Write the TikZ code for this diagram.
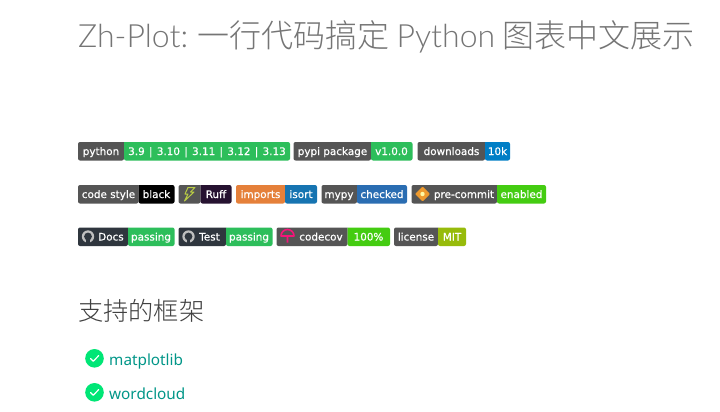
\documentclass[tikz,border=0pt]{standalone}
\usepackage{fontspec}
\setmainfont{DejaVu Sans}
\newfontfamily\badgefont{DejaVu Sans}[RawFeature={embolden=0.5}]
\newfontfamily\titlefont{Noto Sans CJK SC Light}
\newfontfamily\titlelatin{Lato Light}
\newfontfamily\listfont{Noto Sans}
\definecolor{badgegrey}{HTML}{555555}
\definecolor{badgedark}{HTML}{2F363E}
\definecolor{badgegreen}{HTML}{2DBE5B}
\definecolor{badgelime}{HTML}{44CC11}
\definecolor{badgeblue}{HTML}{007EC6}
\definecolor{badgeorange}{HTML}{E5803A}
\definecolor{badgeisort}{HTML}{1674B1}
\definecolor{badgemypy}{HTML}{2A6DB2}
\definecolor{badgeruff}{HTML}{261230}
\definecolor{badgemit}{HTML}{97BB0B}
\definecolor{titlegrey}{HTML}{757575}
\definecolor{linkteal}{HTML}{009688}
\definecolor{checkgreen}{HTML}{00E676}
\definecolor{codecovpink}{HTML}{F5157A}
\definecolor{ruffbolt}{HTML}{B9CC45}
\definecolor{commitorange}{HTML}{EE9A2E}
\tikzset{
  badgetext/.style={text=white, font=\badgefont\fontsize{10.4}{11}\selectfont, inner sep=0pt, anchor=base},
  githubmark/.style={fill=white!75!black},
}
% #1 name, #2 left, #3 split, #4 right, #5 top, #6 left colour, #7 right colour
\newcommand{\badgeback}[7]{
  \fill[#6, rounded corners=2pt] (#3,#5) -- (#2,#5) -- (#2,#5+18.5) -- (#3,#5+18.5) [sharp corners] -- cycle;
  \fill[#7, rounded corners=2pt] (#3,#5) -- (#4,#5) -- (#4,#5+18.5) -- (#3,#5+18.5) [sharp corners] -- cycle;
  \coordinate (#1) at (#3,#5+9.5);
}
\newcommand{\githubicon}[2]{
  \fill[githubmark] (#1,#2) circle (6.2);
  \fill[badgedark] (#1,#2) circle (3.9);
  \fill[badgedark] (#1-1.6,#2+2) rectangle (#1+1.6,#2+6.5);
}
\begin{document}
\begin{tikzpicture}[x=1pt,y=-1pt]
\useasboundingbox (0,0) rectangle (720,412);
\fill[white] (0,0) rectangle (720,412);
\node[anchor=base west, inner sep=0pt, text=titlegrey, font=\titlefont\fontsize{32}{36}\selectfont] (title) at (78,48) {{\titlelatin Zh-Plot:} 一行代码搞定 {\titlelatin Python} 图表中文展示};
% first row
\badgeback{python}{78}{124}{290}{142}{badgegrey}{badgegreen}
\node[badgetext] (pythonl) at (101,155) {python};
\node[badgetext] (pythonr) at (207,155) {\spaceskip=4.3pt 3.9 | 3.10 | 3.11 | 3.12 | 3.13};
\badgeback{pypi}{293.5}{371}{412.5}{142}{badgegrey}{badgegreen}
\node[badgetext] (pypil) at (332.5,155) {pypi package};
\node[badgetext] (pypir) at (391.5,155) {v1.0.0};
\badgeback{downloads}{417.5}{485}{510}{142}{badgegrey}{badgeblue}
\node[badgetext] (downloadsl) at (451.5,155) {downloads};
\node[badgetext] (downloadsr) at (497.5,155) {10k};
% second row
\badgeback{codestyle}{78}{138.5}{174.5}{185}{badgegrey}{black}
\node[badgetext] (codestylel) at (108.5,198) {code style};
\node[badgetext] (codestyler) at (156.5,198) {black};
\badgeback{ruff}{178.5}{200.5}{231.5}{185}{badgegrey}{badgeruff}
\draw[draw=ruffbolt, line width=1pt, line join=round] (195,187.5) -- (188,187.5) -- (185,194) -- (188,194) -- (184.5,201) -- (194,192) -- (190.5,192) -- cycle;
\node[badgetext] (ruffr) at (216,198) {Ruff};
\badgeback{imports}{236}{285}{317}{185}{badgeorange}{badgeisort}
\node[badgetext] (importsl) at (260.5,198) {imports};
\node[badgetext] (importsr) at (301,198) {isort};
\badgeback{mypy}{321.5}{357}{407}{185}{badgegrey}{badgemypy}
\node[badgetext] (mypyl) at (339,198) {mypy};
\node[badgetext] (mypyr) at (382,198) {checked};
\badgeback{precommit}{411.5}{497}{546}{185}{badgegrey}{badgelime}
\fill[commitorange, rounded corners=1pt] (422.5,186.5) -- (430,194) -- (422.5,201.5) -- (415,194) -- cycle;
\fill[yellow!35!white] (422.5,194) circle (2.2);
\node[badgetext] (precommitl) at (464,198) {pre-commit};
\node[badgetext] (precommitr) at (521.5,198) {enabled};
% third row
\badgeback{docs}{78}{128}{174.5}{227.5}{badgedark}{badgegreen}
\githubicon{88}{236.5}
\node[badgetext] (docsl) at (111,240.5) {Docs};
\node[badgetext] (docsr) at (151,240.5) {passing};
\badgeback{test}{178.5}{226}{272.5}{227.5}{badgedark}{badgegreen}
\githubicon{188.5}{236.5}
\node[badgetext] (testl) at (209.5,240.5) {Test};
\node[badgetext] (testr) at (249,240.5) {passing};
\badgeback{codecov}{276.5}{347.5}{390}{227.5}{badgegrey}{badgelime}
\draw[draw=codecovpink, line width=1.6pt, line join=round] (281,236) arc[start angle=180, end angle=360, radius=6.5] -- cycle (287.5,236) -- (287.5,242.5);
\node[badgetext] (codecovl) at (321,240.5) {codecov};
\node[badgetext] (codecovr) at (368.5,240.5) {100\%};
\badgeback{license}{394}{438}{466}{227.5}{badgegrey}{badgemit}
\node[badgetext] (licensel) at (416,240.5) {license};
\node[badgetext] (licenser) at (452,240.5) {MIT};
% framework list
\node[anchor=base west, inner sep=0pt, text=black!75, font=\titlefont\fontsize{25.2}{28}\selectfont] (frameworks) at (78,320) {支持的框架};
\fill[checkgreen] (94.5,358.3) circle (9.3);
\draw[white, line width=1.2pt, line cap=round, line join=round] (90.5,358.5) -- (93.3,361.2) -- (98.8,355.5);
\node[anchor=base west, inner sep=0pt, text=linkteal, font=\listfont\fontsize{15.3}{20}\selectfont] (matplotlib) at (109,365) {matplotlib};
\fill[checkgreen] (94.5,392.3) circle (9.3);
\draw[white, line width=1.2pt, line cap=round, line join=round] (90.5,392.5) -- (93.3,395.2) -- (98.8,389.5);
\node[anchor=base west, inner sep=0pt, text=linkteal, font=\listfont\fontsize{15.3}{20}\selectfont] (wordcloud) at (109,399) {wordcloud};
\end{tikzpicture}
\end{document}
